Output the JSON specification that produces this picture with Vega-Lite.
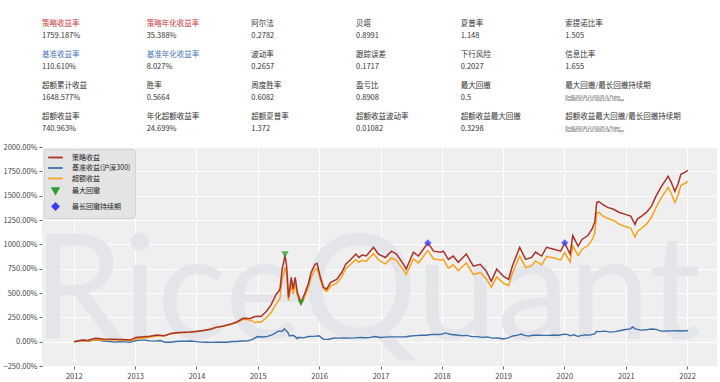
{
  "$schema": "https://vega.github.io/schema/vega-lite/v6.json",
  "background": "white",
  "padding": {"left": 3, "top": 20, "right": 3, "bottom": 0},
  "spacing": 33,
  "bounds": "flush",
  "resolve": {"scale": {"color": "independent"}, "legend": {"color": "independent"}},
  "config": {
    "font": "Noto Sans CJK SC",
    "view": {"stroke": null},
    "axis": {
      "labelFont": "Noto Sans CJK SC",
      "labelFontSize": 7.5,
      "labelColor": "#444444",
      "gridColor": "#ffffff",
      "gridWidth": 1,
      "gridOpacity": 1,
      "domain": false,
      "tickColor": "#666666",
      "tickSize": 3,
      "title": null
    },
    "legend": {
      "labelFont": "Noto Sans CJK SC",
      "labelFontSize": 7,
      "labelColor": "#222222",
      "orient": "top-left",
      "offset": 2,
      "padding": 4,
      "fillColor": "#e4e4e4",
      "strokeColor": "#d4d4d4",
      "cornerRadius": 2,
      "symbolSize": 40,
      "symbolOffset": 3,
      "rowPadding": 1.5,
      "symbolStrokeWidth": 1.8,
      "labelOffset": 12,
      "title": null
    }
  },
  "datasets": {
    "stats": [
      {"c": 0, "r": 0, "label": "策略收益率", "val": "1759.187%", "grp": "s"},
      {"c": 1, "r": 0, "label": "策略年化收益率", "val": "35.388%", "grp": "s"},
      {"c": 2, "r": 0, "label": "阿尔法", "val": "0.2782", "grp": "o"},
      {"c": 3, "r": 0, "label": "贝塔", "val": "0.8991", "grp": "o"},
      {"c": 4, "r": 0, "label": "夏普率", "val": "1.148", "grp": "o"},
      {"c": 5, "r": 0, "label": "索提诺比率", "val": "1.505", "grp": "o"},
      {"c": 0, "r": 1, "label": "基准收益率", "val": "110.610%", "grp": "b"},
      {"c": 1, "r": 1, "label": "基准年化收益率", "val": "8.027%", "grp": "b"},
      {"c": 2, "r": 1, "label": "波动率", "val": "0.2657", "grp": "o"},
      {"c": 3, "r": 1, "label": "跟踪误差", "val": "0.1717", "grp": "o"},
      {"c": 4, "r": 1, "label": "下行风险", "val": "0.2027", "grp": "o"},
      {"c": 5, "r": 1, "label": "信息比率", "val": "1.655", "grp": "o"},
      {"c": 0, "r": 2, "label": "超额累计收益", "val": "1648.577%", "grp": "o"},
      {"c": 1, "r": 2, "label": "胜率", "val": "0.5664", "grp": "o"},
      {"c": 2, "r": 2, "label": "周度胜率", "val": "0.6082", "grp": "o"},
      {"c": 3, "r": 2, "label": "盈亏比", "val": "0.8908", "grp": "o"},
      {"c": 4, "r": 2, "label": "最大回撤", "val": "0.5", "grp": "o"},
      {"c": 5, "r": 2, "label": "最大回撤/最长回撤持续期", "val": null, "grp": "o"},
      {"c": 0, "r": 3, "label": "超额收益率", "val": "740.963%", "grp": "o"},
      {"c": 1, "r": 3, "label": "年化超额收益率", "val": "24.699%", "grp": "o"},
      {"c": 2, "r": 3, "label": "超额夏普率", "val": "1.372", "grp": "o"},
      {"c": 3, "r": 3, "label": "超额收益波动率", "val": "0.01082", "grp": "o"},
      {"c": 4, "r": 3, "label": "超额收益最大回撤", "val": "0.3298", "grp": "o"},
      {"c": 5, "r": 3, "label": "超额收益最大回撤/最长回撤持续期", "val": null, "grp": "o"}
    ],
    "notes": [
      {"c": 5, "r": 2, "t": "MaxDD 2015-06-12~2015-09-15, 95 days\nMaxDDD 2017-10-10~2020-01-03, 815 days"},
      {"c": 5, "r": 3, "t": "MaxDD 2015-06-12~2015-09-15, 95 days\nMaxDDD 2017-10-10~2020-01-06, 818 days"}
    ],
    "wm": [
      {"d": "2016-10-12", "v": 30, "w": "RiceQuant"}
    ],
    "markers": [
      {"d": "2015-06-12", "s": "最大回撤", "v": 895},
      {"d": "2015-09-15", "s": "最大回撤", "v": 400},
      {"d": "2017-10-10", "s": "最长回撤持续期", "v": 1015},
      {"d": "2020-01-03", "s": "最长回撤持续期", "v": 1015}
    ],
    "lines": [
      {"d":"2012-01-04","s":"策略收益","v":0},{"d":"2012-02-20","s":"策略收益","v":18},{"d":"2012-03-20","s":"策略收益","v":12},{"d":"2012-05-10","s":"策略收益","v":34},{"d":"2012-06-25","s":"策略收益","v":28},{"d":"2012-08-20","s":"策略收益","v":24},{"d":"2012-10-15","s":"策略收益","v":22},{"d":"2012-12-01","s":"策略收益","v":16},{"d":"2013-01-05","s":"策略收益","v":44},{"d":"2013-02-20","s":"策略收益","v":50},{"d":"2013-03-28","s":"策略收益","v":55},{"d":"2013-05-10","s":"策略收益","v":68},{"d":"2013-06-25","s":"策略收益","v":62},{"d":"2013-08-01","s":"策略收益","v":85},{"d":"2013-09-15","s":"策略收益","v":95},{"d":"2013-11-25","s":"策略收益","v":100},{"d":"2014-01-10","s":"策略收益","v":108},{"d":"2014-02-10","s":"策略收益","v":115},{"d":"2014-03-25","s":"策略收益","v":128},{"d":"2014-04-27","s":"策略收益","v":147},{"d":"2014-06-05","s":"策略收益","v":158},{"d":"2014-07-20","s":"策略收益","v":178},{"d":"2014-09-01","s":"策略收益","v":205},{"d":"2014-10-05","s":"策略收益","v":240},{"d":"2014-11-01","s":"策略收益","v":238},{"d":"2014-11-22","s":"策略收益","v":240},{"d":"2014-12-15","s":"策略收益","v":258},{"d":"2015-01-03","s":"策略收益","v":262},{"d":"2015-01-20","s":"策略收益","v":258},{"d":"2015-02-21","s":"策略收益","v":310},{"d":"2015-03-22","s":"策略收益","v":380},{"d":"2015-04-20","s":"策略收益","v":485},{"d":"2015-05-07","s":"策略收益","v":520},{"d":"2015-05-14","s":"策略收益","v":545},{"d":"2015-05-26","s":"策略收益","v":745},{"d":"2015-06-05","s":"策略收益","v":820},{"d":"2015-06-12","s":"策略收益","v":895},{"d":"2015-06-22","s":"策略收益","v":775},{"d":"2015-07-03","s":"策略收益","v":455},{"d":"2015-07-20","s":"策略收益","v":660},{"d":"2015-07-30","s":"策略收益","v":540},{"d":"2015-08-12","s":"策略收益","v":660},{"d":"2015-08-25","s":"策略收益","v":505},{"d":"2015-09-15","s":"策略收益","v":400},{"d":"2015-10-10","s":"策略收益","v":505},{"d":"2015-10-28","s":"策略收益","v":590},{"d":"2015-11-15","s":"策略收益","v":710},{"d":"2015-12-08","s":"策略收益","v":795},{"d":"2015-12-20","s":"策略收益","v":805},{"d":"2016-01-08","s":"策略收益","v":670},{"d":"2016-01-27","s":"策略收益","v":560},{"d":"2016-02-15","s":"策略收益","v":540},{"d":"2016-03-10","s":"策略收益","v":610},{"d":"2016-04-15","s":"策略收益","v":640},{"d":"2016-05-15","s":"策略收益","v":710},{"d":"2016-06-08","s":"策略收益","v":795},{"d":"2016-07-08","s":"策略收益","v":845},{"d":"2016-08-07","s":"策略收益","v":900},{"d":"2016-08-25","s":"策略收益","v":865},{"d":"2016-09-13","s":"策略收益","v":890},{"d":"2016-10-08","s":"策略收益","v":880},{"d":"2016-11-20","s":"策略收益","v":970},{"d":"2016-12-20","s":"策略收益","v":900},{"d":"2017-01-30","s":"策略收益","v":865},{"d":"2017-03-07","s":"策略收益","v":930},{"d":"2017-04-06","s":"策略收益","v":900},{"d":"2017-05-18","s":"策略收益","v":795},{"d":"2017-06-03","s":"策略收益","v":745},{"d":"2017-07-16","s":"策略收益","v":920},{"d":"2017-08-15","s":"策略收益","v":880},{"d":"2017-09-13","s":"策略收益","v":950},{"d":"2017-10-10","s":"策略收益","v":1015},{"d":"2017-11-13","s":"策略收益","v":930},{"d":"2017-12-24","s":"策略收益","v":920},{"d":"2018-01-10","s":"策略收益","v":930},{"d":"2018-02-09","s":"策略收益","v":845},{"d":"2018-03-10","s":"策略收益","v":880},{"d":"2018-04-09","s":"策略收益","v":815},{"d":"2018-05-27","s":"策略收益","v":900},{"d":"2018-07-08","s":"策略收益","v":775},{"d":"2018-08-18","s":"策略收益","v":795},{"d":"2018-09-23","s":"策略收益","v":725},{"d":"2018-10-23","s":"策略收益","v":620},{"d":"2018-11-24","s":"策略收益","v":745},{"d":"2019-01-04","s":"策略收益","v":670},{"d":"2019-02-03","s":"策略收益","v":640},{"d":"2019-02-25","s":"策略收益","v":775},{"d":"2019-04-10","s":"策略收益","v":970},{"d":"2019-05-15","s":"策略收益","v":845},{"d":"2019-06-20","s":"策略收益","v":865},{"d":"2019-07-13","s":"策略收益","v":920},{"d":"2019-08-19","s":"策略收益","v":880},{"d":"2019-09-17","s":"策略收益","v":970},{"d":"2019-10-30","s":"策略收益","v":950},{"d":"2019-12-10","s":"策略收益","v":930},{"d":"2020-01-03","s":"策略收益","v":1015},{"d":"2020-02-04","s":"策略收益","v":900},{"d":"2020-02-20","s":"策略收益","v":1090},{"d":"2020-03-23","s":"策略收益","v":980},{"d":"2020-04-15","s":"策略收益","v":1050},{"d":"2020-05-20","s":"策略收益","v":1090},{"d":"2020-06-15","s":"策略收益","v":1160},{"d":"2020-06-30","s":"策略收益","v":1230},{"d":"2020-07-12","s":"策略收益","v":1430},{"d":"2020-07-24","s":"策略收益","v":1440},{"d":"2020-08-15","s":"策略收益","v":1410},{"d":"2020-09-15","s":"策略收益","v":1380},{"d":"2020-10-20","s":"策略收益","v":1360},{"d":"2020-11-20","s":"策略收益","v":1330},{"d":"2020-12-25","s":"策略收益","v":1310},{"d":"2021-01-30","s":"策略收益","v":1290},{"d":"2021-02-25","s":"策略收益","v":1205},{"d":"2021-03-10","s":"策略收益","v":1260},{"d":"2021-04-05","s":"策略收益","v":1290},{"d":"2021-05-05","s":"策略收益","v":1330},{"d":"2021-06-02","s":"策略收益","v":1390},{"d":"2021-06-30","s":"策略收益","v":1495},{"d":"2021-07-30","s":"策略收益","v":1590},{"d":"2021-08-22","s":"策略收益","v":1650},{"d":"2021-09-10","s":"策略收益","v":1700},{"d":"2021-09-28","s":"策略收益","v":1640},{"d":"2021-10-20","s":"策略收益","v":1545},{"d":"2021-11-08","s":"策略收益","v":1620},{"d":"2021-11-25","s":"策略收益","v":1720},{"d":"2021-12-18","s":"策略收益","v":1740},{"d":"2022-01-05","s":"策略收益","v":1759},
      {"d":"2012-01-04","s":"超额收益","v":0},{"d":"2012-02-20","s":"超额收益","v":10},{"d":"2012-03-20","s":"超额收益","v":5},{"d":"2012-05-10","s":"超额收益","v":20},{"d":"2012-06-25","s":"超额收益","v":18},{"d":"2012-08-20","s":"超额收益","v":18},{"d":"2012-10-15","s":"超额收益","v":16},{"d":"2012-12-01","s":"超额收益","v":10},{"d":"2013-01-05","s":"超额收益","v":28},{"d":"2013-02-20","s":"超额收益","v":35},{"d":"2013-03-28","s":"超额收益","v":45},{"d":"2013-05-10","s":"超额收益","v":58},{"d":"2013-06-25","s":"超额收益","v":60},{"d":"2013-08-01","s":"超额收益","v":80},{"d":"2013-09-15","s":"超额收益","v":90},{"d":"2013-11-25","s":"超额收益","v":96},{"d":"2014-01-10","s":"超额收益","v":106},{"d":"2014-02-10","s":"超额收益","v":114},{"d":"2014-03-25","s":"超额收益","v":128},{"d":"2014-04-27","s":"超额收益","v":146},{"d":"2014-06-05","s":"超额收益","v":158},{"d":"2014-07-20","s":"超额收益","v":174},{"d":"2014-09-01","s":"超额收益","v":200},{"d":"2014-10-05","s":"超额收益","v":230},{"d":"2014-11-01","s":"超额收益","v":228},{"d":"2014-11-22","s":"超额收益","v":218},{"d":"2014-12-15","s":"超额收益","v":195},{"d":"2015-01-03","s":"超额收益","v":205},{"d":"2015-01-20","s":"超额收益","v":200},{"d":"2015-02-21","s":"超额收益","v":245},{"d":"2015-03-22","s":"超额收益","v":300},{"d":"2015-04-20","s":"超额收益","v":385},{"d":"2015-05-07","s":"超额收益","v":430},{"d":"2015-05-14","s":"超额收益","v":450},{"d":"2015-05-26","s":"超额收益","v":640},{"d":"2015-06-05","s":"超额收益","v":700},{"d":"2015-06-12","s":"超额收益","v":765},{"d":"2015-06-22","s":"超额收益","v":700},{"d":"2015-07-03","s":"超额收益","v":420},{"d":"2015-07-20","s":"超额收益","v":590},{"d":"2015-07-30","s":"超额收益","v":490},{"d":"2015-08-12","s":"超额收益","v":600},{"d":"2015-08-25","s":"超额收益","v":470},{"d":"2015-09-15","s":"超额收益","v":385},{"d":"2015-10-10","s":"超额收益","v":470},{"d":"2015-10-28","s":"超额收益","v":550},{"d":"2015-11-15","s":"超额收益","v":660},{"d":"2015-12-08","s":"超额收益","v":740},{"d":"2015-12-20","s":"超额收益","v":755},{"d":"2016-01-08","s":"超额收益","v":640},{"d":"2016-01-27","s":"超额收益","v":540},{"d":"2016-02-15","s":"超额收益","v":515},{"d":"2016-03-10","s":"超额收益","v":570},{"d":"2016-04-15","s":"超额收益","v":600},{"d":"2016-05-15","s":"超额收益","v":665},{"d":"2016-06-08","s":"超额收益","v":750},{"d":"2016-07-08","s":"超额收益","v":795},{"d":"2016-08-07","s":"超额收益","v":845},{"d":"2016-08-25","s":"超额收益","v":815},{"d":"2016-09-13","s":"超额收益","v":835},{"d":"2016-10-08","s":"超额收益","v":825},{"d":"2016-11-20","s":"超额收益","v":905},{"d":"2016-12-20","s":"超额收益","v":840},{"d":"2017-01-30","s":"超额收益","v":800},{"d":"2017-03-07","s":"超额收益","v":860},{"d":"2017-04-06","s":"超额收益","v":835},{"d":"2017-05-18","s":"超额收益","v":735},{"d":"2017-06-03","s":"超额收益","v":690},{"d":"2017-07-16","s":"超额收益","v":850},{"d":"2017-08-15","s":"超额收益","v":810},{"d":"2017-09-13","s":"超额收益","v":875},{"d":"2017-10-10","s":"超额收益","v":935},{"d":"2017-11-13","s":"超额收益","v":850},{"d":"2017-12-24","s":"超额收益","v":840},{"d":"2018-01-10","s":"超额收益","v":845},{"d":"2018-02-09","s":"超额收益","v":755},{"d":"2018-03-10","s":"超额收益","v":790},{"d":"2018-04-09","s":"超额收益","v":730},{"d":"2018-05-27","s":"超额收益","v":810},{"d":"2018-07-08","s":"超额收益","v":690},{"d":"2018-08-18","s":"超额收益","v":710},{"d":"2018-09-23","s":"超额收益","v":645},{"d":"2018-10-23","s":"超额收益","v":560},{"d":"2018-11-24","s":"超额收益","v":665},{"d":"2019-01-04","s":"超额收益","v":600},{"d":"2019-02-03","s":"超额收益","v":575},{"d":"2019-02-25","s":"超额收益","v":700},{"d":"2019-04-10","s":"超额收益","v":880},{"d":"2019-05-15","s":"超额收益","v":760},{"d":"2019-06-20","s":"超额收益","v":780},{"d":"2019-07-13","s":"超额收益","v":830},{"d":"2019-08-19","s":"超额收益","v":790},{"d":"2019-09-17","s":"超额收益","v":875},{"d":"2019-10-30","s":"超额收益","v":860},{"d":"2019-12-10","s":"超额收益","v":840},{"d":"2020-01-03","s":"超额收益","v":915},{"d":"2020-02-04","s":"超额收益","v":820},{"d":"2020-02-20","s":"超额收益","v":985},{"d":"2020-03-23","s":"超额收益","v":885},{"d":"2020-04-15","s":"超额收益","v":950},{"d":"2020-05-20","s":"超额收益","v":985},{"d":"2020-06-15","s":"超额收益","v":1050},{"d":"2020-06-30","s":"超额收益","v":1115},{"d":"2020-07-12","s":"超额收益","v":1320},{"d":"2020-07-24","s":"超额收益","v":1330},{"d":"2020-08-15","s":"超额收益","v":1295},{"d":"2020-09-15","s":"超额收益","v":1265},{"d":"2020-10-20","s":"超额收益","v":1245},{"d":"2020-11-20","s":"超额收益","v":1210},{"d":"2020-12-25","s":"超额收益","v":1185},{"d":"2021-01-30","s":"超额收益","v":1165},{"d":"2021-02-25","s":"超额收益","v":1075},{"d":"2021-03-10","s":"超额收益","v":1130},{"d":"2021-04-05","s":"超额收益","v":1165},{"d":"2021-05-05","s":"超额收益","v":1210},{"d":"2021-06-02","s":"超额收益","v":1275},{"d":"2021-06-30","s":"超额收益","v":1380},{"d":"2021-07-30","s":"超额收益","v":1475},{"d":"2021-08-22","s":"超额收益","v":1535},{"d":"2021-09-10","s":"超额收益","v":1585},{"d":"2021-09-28","s":"超额收益","v":1525},{"d":"2021-10-20","s":"超额收益","v":1430},{"d":"2021-11-08","s":"超额收益","v":1505},{"d":"2021-11-25","s":"超额收益","v":1605},{"d":"2021-12-18","s":"超额收益","v":1625},{"d":"2022-01-05","s":"超额收益","v":1649},
      {"d":"2012-01-04","s":"基准收益(沪深300)","v":0},{"d":"2012-01-31","s":"基准收益(沪深300)","v":6.6},{"d":"2012-02-29","s":"基准收益(沪深300)","v":14.0},{"d":"2012-03-30","s":"基准收益(沪深300)","v":6.2},{"d":"2012-04-27","s":"基准收益(沪深300)","v":13.6},{"d":"2012-05-31","s":"基准收益(沪深300)","v":13.1},{"d":"2012-06-29","s":"基准收益(沪深300)","v":6.5},{"d":"2012-07-31","s":"基准收益(沪深300)","v":1.0},{"d":"2012-08-31","s":"基准收益(沪深300)","v":-4.6},{"d":"2012-09-28","s":"基准收益(沪深300)","v":-0.8},{"d":"2012-10-31","s":"基准收益(沪深300)","v":-2.5},{"d":"2012-11-30","s":"基准收益(沪深300)","v":-7.4},{"d":"2012-12-31","s":"基准收益(沪深300)","v":9.1},{"d":"2013-01-31","s":"基准收益(沪深300)","v":16.3},{"d":"2013-02-28","s":"基准收益(沪深300)","v":15.7},{"d":"2013-03-29","s":"基准收益(沪深300)","v":8.0},{"d":"2013-04-26","s":"基准收益(沪深300)","v":5.9},{"d":"2013-05-31","s":"基准收益(沪深300)","v":12.2},{"d":"2013-06-28","s":"基准收益(沪深300)","v":-6.4},{"d":"2013-07-31","s":"基准收益(沪深300)","v":-5.5},{"d":"2013-08-30","s":"基准收益(沪深300)","v":1.6},{"d":"2013-09-30","s":"基准收益(沪深300)","v":4.3},{"d":"2013-10-31","s":"基准收益(沪深300)","v":4.2},{"d":"2013-11-29","s":"基准收益(沪深300)","v":7.0},{"d":"2013-12-31","s":"基准收益(沪深300)","v":0.8},{"d":"2014-01-30","s":"基准收益(沪深300)","v":-4.7},{"d":"2014-02-28","s":"基准收益(沪深300)","v":-5.7},{"d":"2014-03-31","s":"基准收益(沪深300)","v":-7.1},{"d":"2014-04-30","s":"基准收益(沪深300)","v":-6.5},{"d":"2014-05-30","s":"基准收益(沪深300)","v":-6.7},{"d":"2014-06-30","s":"基准收益(沪深300)","v":-6.3},{"d":"2014-07-31","s":"基准收益(沪深300)","v":1.7},{"d":"2014-08-29","s":"基准收益(沪深300)","v":1.2},{"d":"2014-09-30","s":"基准收益(沪深300)","v":6.1},{"d":"2014-10-31","s":"基准收益(沪深300)","v":8.5},{"d":"2014-11-28","s":"基准收益(沪深300)","v":21.5},{"d":"2014-12-31","s":"基准收益(沪深300)","v":52.9},{"d":"2015-01-30","s":"基准收益(沪深300)","v":48.6},{"d":"2015-02-27","s":"基准收益(沪深300)","v":54.6},{"d":"2015-03-31","s":"基准收益(沪深300)","v":71.9},{"d":"2015-04-30","s":"基准收益(沪深300)","v":105.5},{"d":"2015-05-29","s":"基准收益(沪深300)","v":109.5},{"d":"2015-06-08","s":"基准收益(沪深300)","v":132.8},{"d":"2015-06-30","s":"基准收益(沪深300)","v":93.6},{"d":"2015-07-08","s":"基准收益(沪深300)","v":58.5},{"d":"2015-07-31","s":"基准收益(沪深300)","v":65.1},{"d":"2015-08-26","s":"基准收益(沪深300)","v":30.9},{"d":"2015-08-31","s":"基准收益(沪深300)","v":45.7},{"d":"2015-09-30","s":"基准收益(沪深300)","v":38.6},{"d":"2015-10-30","s":"基准收益(沪深300)","v":52.9},{"d":"2015-11-30","s":"基准收益(沪深300)","v":54.3},{"d":"2015-12-31","s":"基准收益(沪深300)","v":61.4},{"d":"2016-01-28","s":"基准收益(沪深300)","v":23.5},{"d":"2016-02-29","s":"基准收益(沪深300)","v":24.5},{"d":"2016-03-31","s":"基准收益(沪深300)","v":39.2},{"d":"2016-04-29","s":"基准收益(沪深300)","v":36.6},{"d":"2016-05-31","s":"基准收益(沪深300)","v":37.1},{"d":"2016-06-30","s":"基准收益(沪深300)","v":36.5},{"d":"2016-07-29","s":"基准收益(沪深300)","v":38.6},{"d":"2016-08-31","s":"基准收益(沪深300)","v":44.0},{"d":"2016-09-30","s":"基准收益(沪深300)","v":40.8},{"d":"2016-10-31","s":"基准收益(沪深300)","v":44.4},{"d":"2016-11-30","s":"基准收益(沪深300)","v":53.1},{"d":"2016-12-30","s":"基准收益(沪深300)","v":43.2},{"d":"2017-01-26","s":"基准收益(沪深300)","v":46.6},{"d":"2017-02-28","s":"基准收益(沪深300)","v":49.4},{"d":"2017-03-31","s":"基准收益(沪深300)","v":49.5},{"d":"2017-04-28","s":"基准收益(沪深300)","v":48.8},{"d":"2017-05-31","s":"基准收益(沪深300)","v":51.1},{"d":"2017-06-30","s":"基准收益(沪深300)","v":58.6},{"d":"2017-07-31","s":"基准收益(沪深300)","v":61.7},{"d":"2017-08-31","s":"基准收益(沪深300)","v":65.4},{"d":"2017-09-29","s":"基准收益(沪深300)","v":66.0},{"d":"2017-10-31","s":"基准收益(沪深300)","v":73.3},{"d":"2017-11-30","s":"基准收益(沪深300)","v":73.0},{"d":"2017-12-29","s":"基准收益(沪深300)","v":74.4},{"d":"2018-01-24","s":"基准收益(沪深300)","v":89.9},{"d":"2018-01-31","s":"基准收益(沪深300)","v":85.0},{"d":"2018-02-28","s":"基准收益(沪深300)","v":74.1},{"d":"2018-03-30","s":"基准收益(沪深300)","v":68.7},{"d":"2018-04-27","s":"基准收益(沪深300)","v":62.5},{"d":"2018-05-31","s":"基准收益(沪深300)","v":64.5},{"d":"2018-06-29","s":"基准收益(沪深300)","v":51.9},{"d":"2018-07-31","s":"基准收益(沪深300)","v":52.2},{"d":"2018-08-31","s":"基准收益(沪深300)","v":44.3},{"d":"2018-09-28","s":"基准收益(沪深300)","v":48.8},{"d":"2018-10-31","s":"基准收益(沪深300)","v":36.4},{"d":"2018-11-30","s":"基准收益(沪深300)","v":37.3},{"d":"2018-12-28","s":"基准收益(沪深300)","v":30.2},{"d":"2019-01-03","s":"基准收益(沪深300)","v":28.3},{"d":"2019-01-31","s":"基准收益(沪深300)","v":38.5},{"d":"2019-02-28","s":"基准收益(沪深300)","v":58.8},{"d":"2019-03-29","s":"基准收益(沪深300)","v":67.5},{"d":"2019-04-19","s":"基准收益(沪深300)","v":78.3},{"d":"2019-04-30","s":"基准收益(沪深300)","v":69.3},{"d":"2019-05-31","s":"基准收益(沪深300)","v":57.1},{"d":"2019-06-28","s":"基准收益(沪深300)","v":65.5},{"d":"2019-07-31","s":"基准收益(沪深300)","v":65.9},{"d":"2019-08-30","s":"基准收益(沪深300)","v":64.4},{"d":"2019-09-30","s":"基准收益(沪深300)","v":65.0},{"d":"2019-10-31","s":"基准收益(沪深300)","v":68.2},{"d":"2019-11-29","s":"基准收益(沪深300)","v":65.6},{"d":"2019-12-31","s":"基准收益(沪深300)","v":77.2},{"d":"2020-01-23","s":"基准收益(沪深300)","v":73.0},{"d":"2020-02-03","s":"基准收益(沪深300)","v":59.6},{"d":"2020-02-28","s":"基准收益(沪深300)","v":70.5},{"d":"2020-03-23","s":"基准收益(沪深300)","v":52.8},{"d":"2020-03-31","s":"基准收益(沪深300)","v":59.5},{"d":"2020-04-30","s":"基准收益(沪深300)","v":69.3},{"d":"2020-05-29","s":"基准收益(沪深300)","v":67.4},{"d":"2020-06-30","s":"基准收益(沪深300)","v":80.2},{"d":"2020-07-09","s":"基准收益(沪深300)","v":105.3},{"d":"2020-07-31","s":"基准收益(沪深300)","v":103.2},{"d":"2020-08-31","s":"基准收益(沪深300)","v":108.4},{"d":"2020-09-30","s":"基准收益(沪深300)","v":98.5},{"d":"2020-10-30","s":"基准收益(沪深300)","v":103.2},{"d":"2020-11-30","s":"基准收益(沪深300)","v":114.6},{"d":"2020-12-31","s":"基准收益(沪深300)","v":125.5},{"d":"2021-01-29","s":"基准收益(沪深300)","v":131.5},{"d":"2021-02-10","s":"基准收益(沪深300)","v":151.3},{"d":"2021-02-26","s":"基准收益(沪深300)","v":130.9},{"d":"2021-03-31","s":"基准收益(沪深300)","v":118.4},{"d":"2021-04-30","s":"基准收益(沪深300)","v":121.7},{"d":"2021-05-31","s":"基准收益(沪深300)","v":130.7},{"d":"2021-06-30","s":"基准收益(沪深300)","v":126.1},{"d":"2021-07-30","s":"基准收益(沪深300)","v":108.2},{"d":"2021-08-31","s":"基准收益(沪深300)","v":109.0},{"d":"2021-09-30","s":"基准收益(沪深300)","v":110.6},{"d":"2021-10-29","s":"基准收益(沪深300)","v":112.4},{"d":"2021-11-30","s":"基准收益(沪深300)","v":109.1},{"d":"2021-12-31","s":"基准收益(沪深300)","v":113.8},{"d":"2022-01-05","s":"基准收益(沪深300)","v":110.6}
    ]
  },
  "vconcat": [
    {
      "width": 628,
      "height": 93,
      "data": {"name": "stats"},
      "layer": [
        {
          "mark": {"type": "text", "align": "left", "baseline": "middle", "fontSize": 7.5, "dy": 3},
          "encoding": {
            "x": {"field": "c", "type": "quantitative", "scale": {"domain": [0, 6]}, "axis": null},
            "y": {"field": "r", "type": "quantitative", "scale": {"domain": [0, 3], "reverse": true}, "axis": null},
            "text": {"field": "label"},
            "color": {"condition": [{"test": "datum.grp === 's'", "value": "#c9413c"}, {"test": "datum.grp === 'b'", "value": "#4a78b8"}], "value": "#333333"}
          }
        },
        {
          "transform": [{"filter": "datum.val != null"}],
          "mark": {"type": "text", "align": "left", "baseline": "middle", "fontSize": 7.5, "dy": 15, "color": "#333333"},
          "encoding": {
            "x": {"field": "c", "type": "quantitative", "scale": {"domain": [0, 6]}, "axis": null},
            "y": {"field": "r", "type": "quantitative", "scale": {"domain": [0, 3], "reverse": true}, "axis": null},
            "text": {"field": "val"}
          }
        },
        {
          "data": {"name": "notes"},
          "mark": {"type": "text", "align": "left", "baseline": "top", "fontSize": 3, "lineHeight": 3.6, "lineBreak": "\n", "dy": 12.5, "color": "#333333"},
          "encoding": {
            "x": {"field": "c", "type": "quantitative", "scale": {"domain": [0, 6]}, "axis": null},
            "y": {"field": "r", "type": "quantitative", "scale": {"domain": [0, 3], "reverse": true}, "axis": null},
            "text": {"field": "t"}
          }
        }
      ]
    },
    {
      "width": 675,
      "height": 219,
      "view": {"fill": "#efefef", "stroke": null},
      "encoding": {
        "x": {
          "field": "d", "type": "temporal",
          "scale": {"domain": [{"year": 2011, "month": 6, "date": 26}, {"year": 2022, "month": 6, "date": 28}]},
          "axis": {"format": "%Y", "tickCount": {"interval": "year", "step": 1}, "labelPadding": 3, "gridColor": "#ffffff"}
        },
        "y": {
          "field": "v", "type": "quantitative",
          "scale": {"domain": [-250, 2000], "nice": false, "zero": false},
          "axis": {"values": [-250, 0, 250, 500, 750, 1000, 1250, 1500, 1750, 2000], "labelExpr": "format(datum.value, '.2f') + '%'", "labelPadding": 2}
        }
      },
      "layer": [
        {
          "data": {"name": "wm"},
          "mark": {"type": "text", "font": "Lato", "fontSize": 145, "color": "#e3e5eb", "align": "center", "baseline": "alphabetic", "clip": true},
          "encoding": {
            "text": {"field": "w"}
          }
        },
        {
          "data": {"name": "lines"},
          "transform": [{"filter": "datum.s === '基准收益(沪深300)'"}],
          "mark": {"type": "line", "strokeWidth": 1.4},
          "encoding": {
            "color": {"field": "s", "type": "nominal", "scale": {"domain": ["策略收益", "基准收益(沪深300)", "超额收益", "最大回撤", "最长回撤持续期"], "range": ["#a8332b", "#3a6da6", "#f7a21b", "#2ca02c", "#3b3bff"]},
              "legend": {"symbolType": "circle", "encode": {"symbols": {"update": {"shape": {"signal": "datum.value === '最大回撤' ? 'triangle-down' : datum.value === '最长回撤持续期' ? 'diamond' : 'M-2.3,0H2.3'"}, "fill": {"scale": "color", "field": "value"}, "stroke": {"scale": "color", "field": "value"}, "opacity": {"value": 1}, "strokeWidth": {"value": 1.8}, "size": {"value": 40}}}}}}
          }
        },
        {
          "data": {"name": "lines"},
          "transform": [{"filter": "datum.s === '超额收益'"}],
          "mark": {"type": "line", "strokeWidth": 1.5},
          "encoding": {
            "color": {"field": "s", "type": "nominal", "scale": {"domain": ["策略收益", "基准收益(沪深300)", "超额收益", "最大回撤", "最长回撤持续期"], "range": ["#a8332b", "#3a6da6", "#f7a21b", "#2ca02c", "#3b3bff"]},
              "legend": {"symbolType": "circle", "encode": {"symbols": {"update": {"shape": {"signal": "datum.value === '最大回撤' ? 'triangle-down' : datum.value === '最长回撤持续期' ? 'diamond' : 'M-2.3,0H2.3'"}, "fill": {"scale": "color", "field": "value"}, "stroke": {"scale": "color", "field": "value"}, "opacity": {"value": 1}, "strokeWidth": {"value": 1.8}, "size": {"value": 40}}}}}}
          }
        },
        {
          "data": {"name": "lines"},
          "transform": [{"filter": "datum.s === '策略收益'"}],
          "mark": {"type": "line", "strokeWidth": 1.5},
          "encoding": {
            "color": {"field": "s", "type": "nominal", "scale": {"domain": ["策略收益", "基准收益(沪深300)", "超额收益", "最大回撤", "最长回撤持续期"], "range": ["#a8332b", "#3a6da6", "#f7a21b", "#2ca02c", "#3b3bff"]},
              "legend": {"symbolType": "circle", "encode": {"symbols": {"update": {"shape": {"signal": "datum.value === '最大回撤' ? 'triangle-down' : datum.value === '最长回撤持续期' ? 'diamond' : 'M-2.3,0H2.3'"}, "fill": {"scale": "color", "field": "value"}, "stroke": {"scale": "color", "field": "value"}, "opacity": {"value": 1}, "strokeWidth": {"value": 1.8}, "size": {"value": 40}}}}}}
          }
        },
        {
          "data": {"name": "markers"},
          "mark": {"type": "point", "filled": true, "size": 55, "opacity": 0.75},
          "encoding": {
            "color": {"field": "s", "type": "nominal", "scale": {"domain": ["策略收益", "基准收益(沪深300)", "超额收益", "最大回撤", "最长回撤持续期"], "range": ["#a8332b", "#3a6da6", "#f7a21b", "#2ca02c", "#3b3bff"]},
              "legend": {"symbolType": "circle", "encode": {"symbols": {"update": {"shape": {"signal": "datum.value === '最大回撤' ? 'triangle-down' : datum.value === '最长回撤持续期' ? 'diamond' : 'M-2.3,0H2.3'"}, "fill": {"scale": "color", "field": "value"}, "stroke": {"scale": "color", "field": "value"}, "opacity": {"value": 1}, "strokeWidth": {"value": 1.8}, "size": {"value": 40}}}}}},
            "shape": {"condition": {"test": "datum.s === '最大回撤'", "value": "triangle-down"}, "value": "diamond"}
          }
        }
      ]
    }
  ]
}
